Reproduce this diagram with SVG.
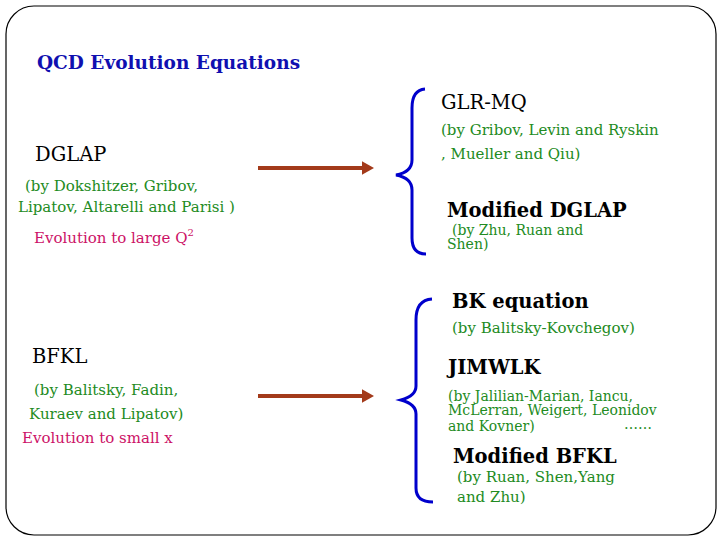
<svg xmlns="http://www.w3.org/2000/svg" width="720" height="540" viewBox="0 0 720 540" font-family="'DejaVu Serif',serif">
<style>
.h{font-size:19.5px;fill:#000}
.hb{font-size:19.5px;font-weight:bold;fill:#000}
.g{font-size:15px;fill:#228B22}
.gs{font-size:14px;fill:#228B22}
.p{font-size:15px;fill:#CC1166}
.br{fill:none;stroke:#0000CC;stroke-width:3}
.ar{stroke:#A33A1A;stroke-width:4;marker-end:url(#ah)}
</style>
<defs><marker id="ah" markerWidth="4" markerHeight="4" refX="2" refY="2" orient="auto"><path d="M0,0.3 L3,2 L0,3.7 Z" fill="#A33A1A"/></marker></defs>
<rect width="720" height="540" fill="#fff"/>
<rect x="6" y="6" width="710" height="529" rx="28" fill="none" stroke="#000" stroke-width="1.2"/>
<text x="37" y="69" style="font-size:18.5px;font-weight:bold;fill:#1010B0">QCD Evolution Equations</text>
<g id="dglap"><text x="35" y="161" class="h">DGLAP</text>
<text x="25" y="191" class="g">(by Dokshitzer, Gribov,</text>
<text x="18" y="212" class="g">Lipatov,  Altarelli and Parisi )</text>
<text x="34" y="243" class="p">Evolution to large Q<tspan dy="-7" font-size="10">2</tspan></text></g>
<g id="bfkl"><text x="32" y="363" class="h">BFKL</text>
<text x="34" y="395" class="g">(by Balitsky, Fadin,</text>
<text x="29" y="419" class="g">Kuraev and Lipatov)</text>
<text x="22" y="443" class="p">Evolution to small x</text></g>
<g id="glrmq"><text x="441" y="109" class="h">GLR-MQ</text>
<text x="441" y="135" class="g">(by Gribov, Levin and Ryskin</text>
<text x="441" y="159" class="g">, Mueller and Qiu)</text></g>
<g id="mdglap"><text x="447" y="217" class="hb">Modified DGLAP</text>
<text x="452" y="235" class="gs">(by Zhu, Ruan and</text>
<text x="447" y="249" class="gs">Shen)</text></g>
<g id="bk"><text x="452" y="308" class="hb">BK equation</text>
<text x="452" y="333" class="g">(by Balitsky-Kovchegov)</text></g>
<g id="jimwlk"><text x="448" y="374" class="hb">JIMWLK</text>
<text x="448" y="401" class="gs">(by Jalilian-Marian, Iancu,</text>
<text x="448" y="415" class="gs">McLerran, Weigert, Leonidov</text>
<text x="448" y="431" class="gs">and Kovner)</text>
<text x="624" y="429" class="gs">……</text></g>
<g id="mbfkl"><text x="453" y="463" class="hb">Modified BFKL</text>
<text x="457" y="482" class="g">(by Ruan, Shen,Yang</text>
<text x="457" y="502" class="g">and Zhu)</text></g>
<g id="connectors">
<line x1="258" y1="168" x2="370" y2="168" class="ar"/>
<line x1="258" y1="396" x2="370" y2="396" class="ar"/>
<path class="br" d="M425,89 Q412,90 412,108 L412,160 Q412,172 396,175 Q412,178 412,190 L412,238 Q412,254 426,254"/>
<path class="br" d="M432,299 Q416,300 416,320 L416,386 Q416,396 401,400 Q416,404 416,414 L416,488 Q416,502 433,502"/>
</g>
</svg>
